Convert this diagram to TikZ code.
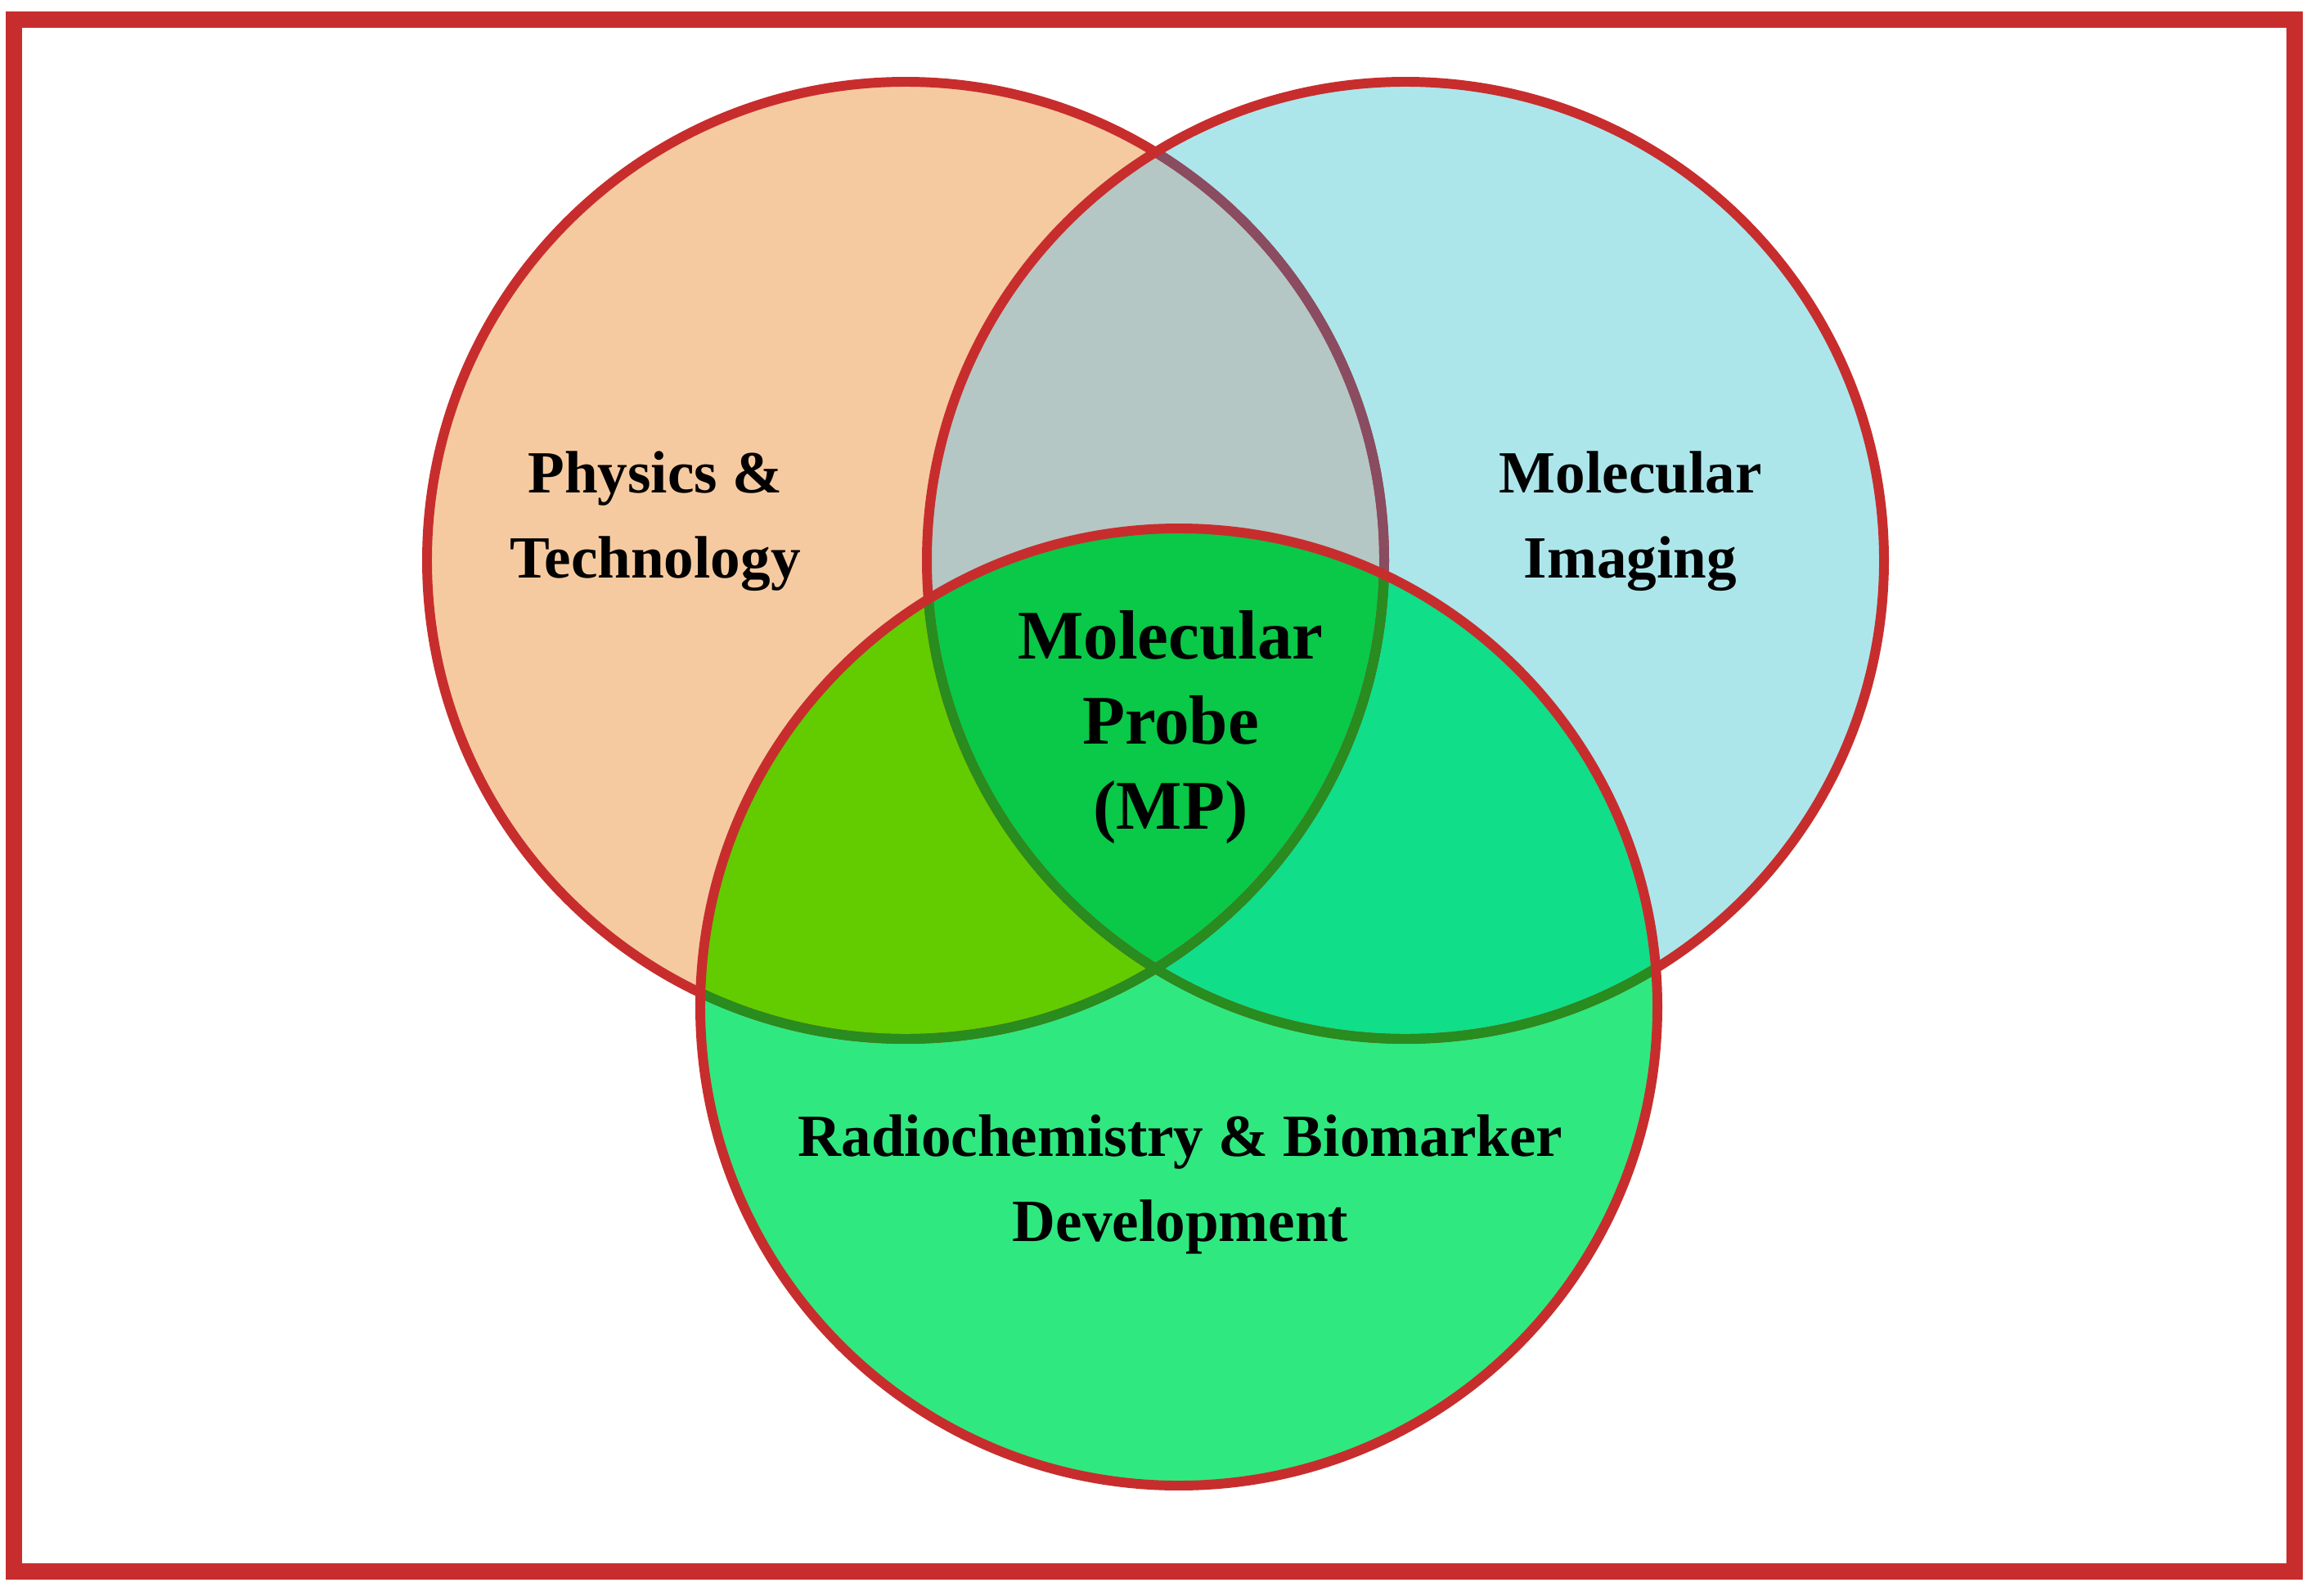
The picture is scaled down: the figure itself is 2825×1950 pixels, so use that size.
\documentclass[tikz,border=0pt]{standalone}
\usepackage{fontspec}
\setmainfont{Liberation Serif}
\definecolor{peach}{RGB}{246,202,160}
\definecolor{cyanc}{RGB}{172,230,235}
\definecolor{grayc}{RGB}{180,199,197}
\definecolor{greenc}{RGB}{48,232,128}
\definecolor{lgreen}{RGB}{98,204,0}
\definecolor{rgreen}{RGB}{16,222,136}
\definecolor{cgreen}{RGB}{10,200,72}
\definecolor{redc}{RGB}{200,45,45}
\definecolor{mauve}{RGB}{138,76,96}
\definecolor{dgreen}{RGB}{40,140,30}
\tikzset{
  ring/.style={line width=3.4pt},
  lbl/.style={align=center, text=black, inner sep=0pt,
    font=\bfseries\fontsize{20.8}{29.6}\selectfont},
  biglbl/.style={align=center, text=black, inner sep=0pt,
    font=\bfseries\fontsize{24.2}{29.7}\selectfont}
}
\begin{document}
\begin{tikzpicture}[x=0.01cm,y=0.01cm]
\useasboundingbox (0,0) rectangle (2825,1950);
\fill[white] (0,0) rectangle (2825,1950);
\coordinate (L) at (1107,1265);
\coordinate (R) at (1718,1265);
\coordinate (B) at (1441,719);
\def\rr{585}
% fills
\fill[peach] (L) circle[radius=\rr];
\fill[cyanc] (R) circle[radius=\rr];
\begin{scope}
  \clip (L) circle[radius=\rr];
  \fill[grayc] (R) circle[radius=\rr];
\end{scope}
\fill[greenc] (B) circle[radius=\rr];
\begin{scope}
  \clip (B) circle[radius=\rr];
  \fill[lgreen] (L) circle[radius=\rr];
  \fill[rgreen] (R) circle[radius=\rr];
  \clip (L) circle[radius=\rr];
  \fill[cgreen] (R) circle[radius=\rr];
\end{scope}
% strokes
\draw[ring, redc] (L) circle[radius=\rr];
\begin{scope}
  \clip (R) circle[radius=\rr];
  \draw[ring, mauve] (L) circle[radius=\rr];
\end{scope}
\draw[ring, redc] (R) circle[radius=\rr];
\begin{scope}
  \clip (B) circle[radius=\rr];
  \draw[ring, dgreen] (L) circle[radius=\rr];
  \draw[ring, dgreen] (R) circle[radius=\rr];
\end{scope}
\draw[ring, redc] (B) circle[radius=\rr];
% border
\draw[redc, line width=5.6pt] (17,1926) rectangle (2805,29);
% labels
\node[lbl] (phys) at (801,1313) {Physics \&\\Technology};
\node[lbl] (imag) at (1993,1313) {Molecular\\Imaging};
\node[biglbl] (mp) at (1431,1061) {Molecular\\Probe\\(MP)};
\node[lbl] (radio) at (1443,502) {Radiochemistry \& Biomarker\\Development};
\end{tikzpicture}
\end{document}
